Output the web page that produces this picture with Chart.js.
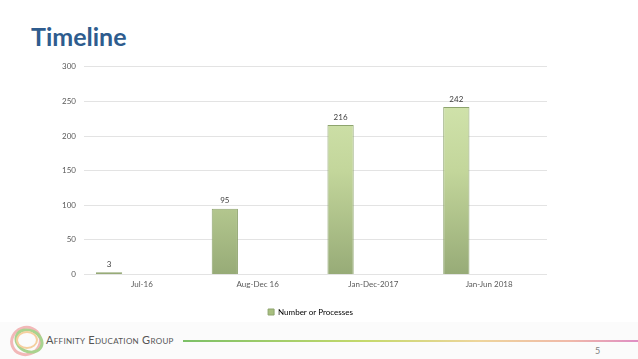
<!DOCTYPE html>
<html>
<head>
<meta charset="utf-8">
<script src="https://cdn.jsdelivr.net/npm/chart.js@4"></script>
<style>
  html, body { margin: 0; padding: 0; background: #fff; }
  body { width: 638px; height: 359px; position: relative; overflow: hidden; font-family: Lato, sans-serif; }
  #title { position: absolute; left: 31px; top: 21px; font-size: 25px; font-weight: bold; color: #2e5c8e; }
  #wrap { position: absolute; left: 0; top: 54px; width: 600px; height: 275px; }
  #footer { position: absolute; left: 0; top: 322px; width: 638px; height: 37px; background: #fbfbfb; }
  #brand { position: absolute; left: 46px; top: 11px; font-size: 11px; color: #555; font-variant: small-caps; letter-spacing: 0.3px; }
  #rule { position: absolute; left: 183px; top: 18px; width: 455px; height: 2px;
          background: linear-gradient(to right, #7cc067, #c5d96c 40%, #eed59c 65%, #f0b9a9 85%, #df8ec4); }
  #page { position: absolute; left: 595px; top: 23px; font-size: 9px; color: #7f7f7f; }
  .ring { position: absolute; border-radius: 50%; border-style: solid; }
</style>
</head>
<body>
<div id="title">Timeline</div>
<div id="footer">
  <div class="ring" style="left:10px;top:4px;width:26px;height:24px;border-width:3px;border-color:#f2b8b8;transform:rotate(-20deg);"></div>
  <div class="ring" style="left:14px;top:7px;width:24px;height:18px;border-width:3px;border-color:#a9d38f;transform:rotate(25deg);"></div>
  <div class="ring" style="left:16px;top:9px;width:18px;height:14px;border-width:2px;border-color:#f5cf9e;"></div>
  <div id="brand">Affinity Education Group</div>
  <div id="rule"></div>
  <div id="page">5</div>
</div>
<div id="wrap"><canvas id="barChart"></canvas></div>
<script>
var categories = ['Jul-16', 'Aug-Dec 16', 'Jan-Dec-2017', 'Jan-Jun 2018'];
var processes = [3, 95, 216, 242];
var spacer = [null, null, null, null];
var yTicks = [0, 50, 100, 150, 200, 250, 300];

var valueLabels = {
    id: 'valueLabels',
    afterDatasetsDraw: function(chart) {
        var ctx = chart.ctx;
        var meta = chart.getDatasetMeta(0);
        ctx.save();
        ctx.font = '8px Lato, sans-serif';
        ctx.fillStyle = '#404040';
        ctx.textAlign = 'center';
        ctx.textBaseline = 'bottom';
        meta.data.forEach(function(bar, i) {
            ctx.fillText(processes[i], bar.x, bar.y - 4);
        });
        ctx.restore();
    }
};

// legend sits a bit right of the plot centre in the original
var legendShift = {
    id: 'legendShift',
    afterLayout: function(chart) {
        chart.legend.left += 37;
        chart.legend.right += 37;
    }
};

function barFill(context) {
    var chart = context.chart;
    var area = chart.chartArea;
    if (!area) return '#c3d69b';
    var g = chart.ctx.createLinearGradient(0, area.top, 0, area.bottom);
    g.addColorStop(0, '#d7e9b3');
    g.addColorStop(0.5, '#c3d69b');
    g.addColorStop(1, '#97ab77');
    return g;
}

var ctxBar = document.getElementById('barChart').getContext('2d');
var barChart = new Chart(ctxBar, {
    type: 'bar',
    data: {
        labels: categories,
        datasets: [{
            label: 'Number or Processes',
            data: processes,
            backgroundColor: barFill,
            borderColor: '#8ea46e',
            borderWidth: 1,
            categoryPercentage: 0.85,
            barPercentage: 0.8
        }, {
            label: '',
            data: spacer,
            categoryPercentage: 0.85,
            barPercentage: 0.8
        }, {
            label: '',
            data: spacer,
            categoryPercentage: 0.85,
            barPercentage: 0.8
        }]
    },
    options: {
        responsive: true,
        maintainAspectRatio: false,
        animation: false,
        layout: { padding: { top: 4, right: 53, bottom: 3, left: 0 } },
        scales: {
            y: {
                min: 0,
                max: 300,
                afterFit: function(scale) { scale.width = 84; },
                afterBuildTicks: function(scale) {
                    scale.ticks = yTicks.map(function(v) { return { value: v }; });
                },
                border: { display: false },
                grid: { color: '#e3e3e3', drawTicks: false },
                ticks: { padding: 8, color: '#595959', font: { family: 'Lato', size: 8 } }
            },
            x: {
                border: { display: false },
                grid: { display: false, drawTicks: false },
                ticks: { padding: 5, color: '#595959', font: { family: 'Lato', size: 8 } }
            }
        },
        plugins: {
            legend: {
                position: 'bottom',
                labels: {
                    boxWidth: 6,
                    boxHeight: 6,
                    padding: 14,
                    color: '#595959',
                    font: { family: 'Lato', size: 8 },
                    generateLabels: function(chart) {
                        return [{ text: 'Number or Processes', fillStyle: '#a8bf7f', strokeStyle: '#8ea46e', lineWidth: 1, datasetIndex: 0 }];
                    }
                }
            },
            tooltip: { enabled: false }
        }
    },
    plugins: [valueLabels, legendShift]
});
</script>
</body>
</html>
